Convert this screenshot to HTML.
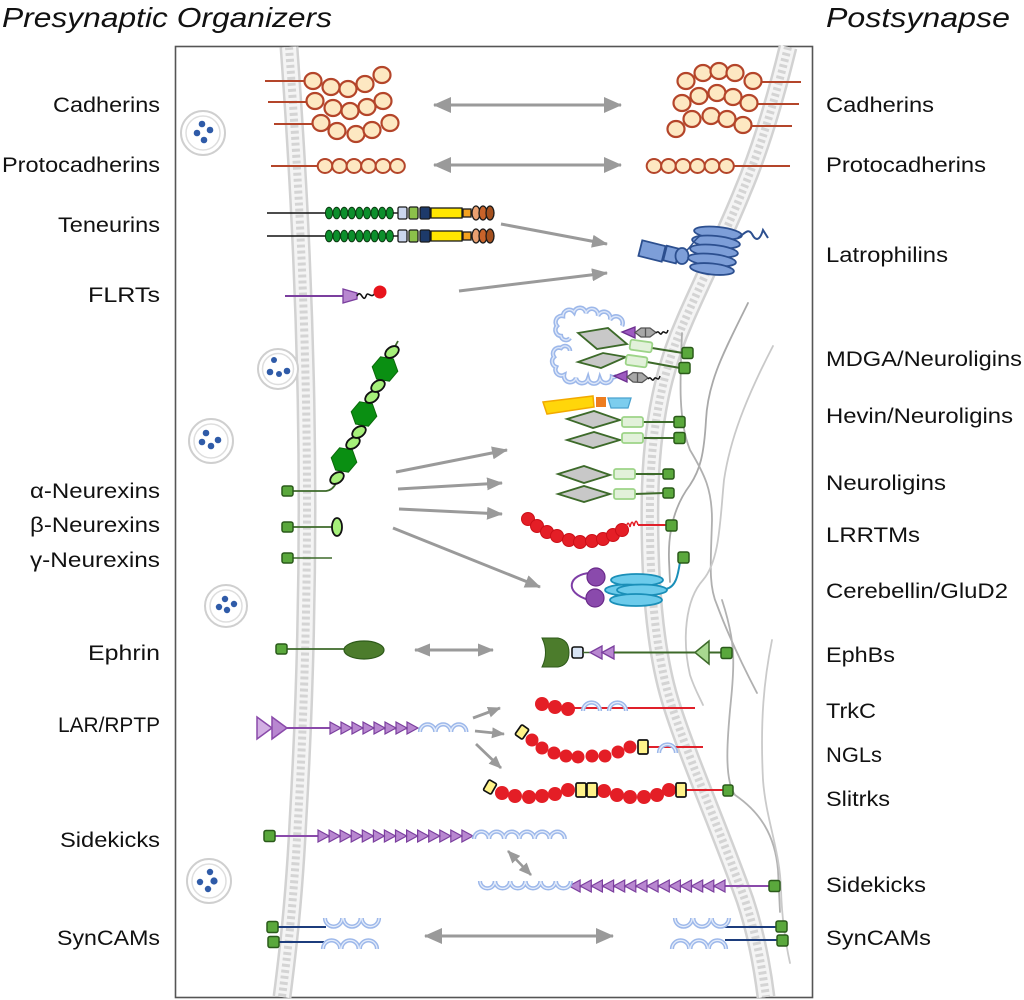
<!DOCTYPE html>
<html>
<head>
<meta charset="utf-8">
<style>
html,body{margin:0;padding:0;background:#fff;}
svg{display:block;}
text{font-family:"Liberation Sans",Arial,sans-serif;fill:#111;}
</style>
</head>
<body>
<svg width="1024" height="1000" viewBox="0 0 1024 1000" xmlns="http://www.w3.org/2000/svg">
<defs>
<marker id="hb" viewBox="0 0 18 16" refX="17" refY="8" markerWidth="18" markerHeight="16" orient="auto-start-reverse" markerUnits="userSpaceOnUse"><path d="M0,0 L18,8 L0,16 z" fill="#9a9a9a"/></marker>
<marker id="hm" viewBox="0 0 16 13" refX="15" refY="6.5" markerWidth="16" markerHeight="13" orient="auto-start-reverse" markerUnits="userSpaceOnUse"><path d="M0,0 L16,6.5 L0,13 z" fill="#9a9a9a"/></marker>
<marker id="hs" viewBox="0 0 13 11" refX="12" refY="5.5" markerWidth="13" markerHeight="11" orient="auto-start-reverse" markerUnits="userSpaceOnUse"><path d="M0,0 L13,5.5 L0,11 z" fill="#9a9a9a"/></marker>
</defs>

<!-- titles -->
<text x="2" y="27" font-size="28" font-style="italic" textLength="330" lengthAdjust="spacingAndGlyphs">Presynaptic Organizers</text>
<text x="826" y="27" font-size="28" font-style="italic" textLength="184" lengthAdjust="spacingAndGlyphs">Postsynapse</text>

<!-- frame -->
<rect x="175.5" y="46.5" width="637" height="951" fill="#fff" stroke="#555" stroke-width="1.6"/>

<!-- membranes -->
<g fill="none">
  <path d="M289,47 C295,130 303,250 306,400 C309,560 305,700 298,820 C294,900 288,950 282,997" stroke="#d2d2d2" stroke-width="19"/>
  <path d="M289,47 C295,130 303,250 306,400 C309,560 305,700 298,820 C294,900 288,950 282,997" stroke="#f4f4f4" stroke-width="14"/>
  <path d="M289,47 C295,130 303,250 306,400 C309,560 305,700 298,820 C294,900 288,950 282,997" stroke="#d4d4d4" stroke-width="8" stroke-dasharray="3 3"/>
  <path d="M788,47 C775,100 760,150 743,190 C725,235 700,285 685,320 C665,365 651,420 650,500 C649,580 655,650 670,700 C685,750 720,830 745,900 C755,930 762,965 766,997" stroke="#d2d2d2" stroke-width="19"/>
  <path d="M788,47 C775,100 760,150 743,190 C725,235 700,285 685,320 C665,365 651,420 650,500 C649,580 655,650 670,700 C685,750 720,830 745,900 C755,930 762,965 766,997" stroke="#f4f4f4" stroke-width="14"/>
  <path d="M788,47 C775,100 760,150 743,190 C725,235 700,285 685,320 C665,365 651,420 650,500 C649,580 655,650 670,700 C685,750 720,830 745,900 C755,930 762,965 766,997" stroke="#d4d4d4" stroke-width="8" stroke-dasharray="3 3"/>
</g>

<!-- cytoskeleton fibers -->
<g fill="none" stroke-width="1.8" stroke-linecap="round">
  <path d="M748,303 C725,350 708,380 706,420 C704,455 700,470 690,485 C675,505 668,530 669,560 L670,582" stroke="#a9a9a9"/>
  <path d="M682,333 C680,380 678,420 690,450 C705,475 712,490 712,520 C711,560 708,585 717,605 C730,640 745,670 757,693" stroke="#b0b0b0"/>
  <path d="M773,346 C745,400 730,440 724,480 C720,520 720,560 703,580 C685,600 682,640 690,675 C695,690 700,698 703,705" stroke="#c9c9c9"/>
  <path d="M722,600 C735,640 735,660 731,700 C727,740 724,780 735,795 C760,812 775,835 778,870 L780,912" stroke="#b2b2b2"/>
  <path d="M772,640 C764,680 760,720 763,780 C766,820 780,850 781,890 C782,920 786,945 790,963" stroke="#cacaca"/>
</g>

<!-- vesicles -->
<g>
  <g transform="translate(203,133)"><circle r="22" fill="#fff" stroke="#cfcfcf" stroke-width="2"/><circle r="17" fill="none" stroke="#dedede" stroke-width="1.5"/><g fill="#2f5ba8"><circle cx="-1" cy="-9" r="3.3"/><circle cx="7" cy="-3" r="3.3"/><circle cx="-6" cy="0" r="3.3"/><circle cx="1" cy="7" r="3.3"/></g></g>
  <g transform="translate(278,369)"><circle r="20" fill="#fff" stroke="#cfcfcf" stroke-width="2"/><circle r="15.5" fill="none" stroke="#dedede" stroke-width="1.5"/><g fill="#2f5ba8"><circle cx="-4" cy="-9" r="3"/><circle cx="-8" cy="3" r="3.3"/><circle cx="1" cy="5" r="3"/><circle cx="9" cy="2" r="3.3"/></g></g>
  <g transform="translate(211,441)"><circle r="22" fill="#fff" stroke="#cfcfcf" stroke-width="2"/><circle r="17" fill="none" stroke="#dedede" stroke-width="1.5"/><g fill="#2f5ba8"><circle cx="-5" cy="-8" r="3.3"/><circle cx="-9" cy="1" r="3.3"/><circle cx="0" cy="5" r="3.3"/><circle cx="7" cy="-1" r="3.3"/></g></g>
  <g transform="translate(226,606)"><circle r="21" fill="#fff" stroke="#cfcfcf" stroke-width="2"/><circle r="16" fill="none" stroke="#dedede" stroke-width="1.5"/><g fill="#2f5ba8"><circle cx="-1" cy="-7" r="3.2"/><circle cx="-7" cy="1" r="3.2"/><circle cx="1" cy="4" r="3.2"/><circle cx="8" cy="-2" r="3.2"/></g></g>
  <g transform="translate(209,881)"><circle r="22" fill="#fff" stroke="#cfcfcf" stroke-width="2"/><circle r="17" fill="none" stroke="#dedede" stroke-width="1.5"/><g fill="#2f5ba8"><circle cx="1" cy="-9" r="3.2"/><circle cx="-9" cy="1" r="3.2"/><circle cx="5" cy="0" r="3.6"/><circle cx="-1" cy="8" r="3.2"/></g></g>
</g>

<!-- arrows -->
<g stroke="#9a9a9a" stroke-width="3" fill="none">
  <line x1="434" y1="105" x2="621" y2="105" marker-start="url(#hb)" marker-end="url(#hb)"/>
  <line x1="434" y1="165" x2="621" y2="165" marker-start="url(#hb)" marker-end="url(#hb)"/>
  <line x1="501" y1="224" x2="607" y2="244" marker-end="url(#hm)"/>
  <line x1="459" y1="291" x2="607" y2="273" marker-end="url(#hm)"/>
  <line x1="396" y1="472" x2="507" y2="450" marker-end="url(#hm)"/>
  <line x1="398" y1="489" x2="502" y2="483" marker-end="url(#hm)"/>
  <line x1="399" y1="509" x2="502" y2="514" marker-end="url(#hm)"/>
  <line x1="393" y1="528" x2="540" y2="587" marker-end="url(#hm)"/>
  <line x1="415" y1="650" x2="493" y2="650" stroke-width="3" marker-start="url(#hm)" marker-end="url(#hm)"/>
  <line x1="473" y1="718" x2="500" y2="708" stroke-width="2.8" marker-end="url(#hs)"/>
  <line x1="475" y1="731" x2="504" y2="734" stroke-width="2.8" marker-end="url(#hs)"/>
  <line x1="476" y1="744" x2="501" y2="768" stroke-width="2.8" marker-end="url(#hs)"/>
  <line x1="508" y1="851" x2="531" y2="875" stroke-width="2.6" marker-start="url(#hs)" marker-end="url(#hs)"/>
  <line x1="425" y1="936" x2="613" y2="936" marker-start="url(#hb)" marker-end="url(#hb)"/>
</g>

<!-- Cadherins -->
<g stroke="#b4452a" stroke-width="2">
  <line x1="265" y1="81" x2="306" y2="81"/>
  <line x1="268" y1="102" x2="307" y2="102"/>
  <line x1="274" y1="124" x2="313" y2="124"/>
  <line x1="760" y1="82" x2="801" y2="82"/>
  <line x1="756" y1="104" x2="799" y2="104"/>
  <line x1="749" y1="126" x2="792" y2="126"/>
  <line x1="271" y1="166" x2="318" y2="166"/>
  <line x1="733" y1="166" x2="790" y2="166"/>
</g>
<g fill="#fde8c2" stroke="#b4452a" stroke-width="2.2">
  <ellipse cx="313" cy="81" rx="8.5" ry="8"/><ellipse cx="331" cy="87" rx="8.5" ry="8"/><ellipse cx="348" cy="89" rx="8.5" ry="8"/><ellipse cx="365" cy="84" rx="8.5" ry="8"/><ellipse cx="382" cy="75" rx="8.5" ry="8"/>
  <ellipse cx="315" cy="101" rx="8.5" ry="8"/><ellipse cx="333" cy="108" rx="8.5" ry="8"/><ellipse cx="350" cy="111" rx="8.5" ry="8"/><ellipse cx="367" cy="107" rx="8.5" ry="8"/><ellipse cx="383" cy="101" rx="8.5" ry="8"/>
  <ellipse cx="321" cy="123" rx="8.5" ry="8"/><ellipse cx="337" cy="131" rx="8.5" ry="8"/><ellipse cx="356" cy="134" rx="8.5" ry="8"/><ellipse cx="372" cy="130" rx="8.5" ry="8"/><ellipse cx="390" cy="123" rx="8.5" ry="8"/>
  <ellipse cx="686" cy="81" rx="8.5" ry="8"/><ellipse cx="703" cy="73" rx="8.5" ry="8"/><ellipse cx="719" cy="71" rx="8.5" ry="8"/><ellipse cx="735" cy="73" rx="8.5" ry="8"/><ellipse cx="753" cy="81" rx="8.5" ry="8"/>
  <ellipse cx="682" cy="103" rx="8.5" ry="8"/><ellipse cx="699" cy="96" rx="8.5" ry="8"/><ellipse cx="717" cy="93" rx="8.5" ry="8"/><ellipse cx="733" cy="97" rx="8.5" ry="8"/><ellipse cx="749" cy="103" rx="8.5" ry="8"/>
  <ellipse cx="676" cy="129" rx="8.5" ry="8"/><ellipse cx="692" cy="119" rx="8.5" ry="8"/><ellipse cx="711" cy="116" rx="8.5" ry="8"/><ellipse cx="727" cy="119" rx="8.5" ry="8"/><ellipse cx="743" cy="125" rx="8.5" ry="8"/>
</g>
<g fill="#fde8c2" stroke="#b4452a" stroke-width="2">
  <ellipse cx="325" cy="166" rx="7.3" ry="7"/><ellipse cx="339.5" cy="166" rx="7.3" ry="7"/><ellipse cx="354" cy="166" rx="7.3" ry="7"/><ellipse cx="368.5" cy="166" rx="7.3" ry="7"/><ellipse cx="383" cy="166" rx="7.3" ry="7"/><ellipse cx="397.5" cy="166" rx="7.3" ry="7"/>
  <ellipse cx="654" cy="166" rx="7.3" ry="7"/><ellipse cx="668.5" cy="166" rx="7.3" ry="7"/><ellipse cx="683" cy="166" rx="7.3" ry="7"/><ellipse cx="697.5" cy="166" rx="7.3" ry="7"/><ellipse cx="712" cy="166" rx="7.3" ry="7"/><ellipse cx="726.5" cy="166" rx="7.3" ry="7"/>
</g>

<!-- Teneurins -->
<g id="ten1">
  <line x1="267" y1="213" x2="330" y2="213" stroke="#111" stroke-width="1.6"/>
  <g fill="#0c8f2c" stroke="#0a3a10" stroke-width="1">
    <ellipse cx="329" cy="213" rx="3.6" ry="5.8"/><ellipse cx="336.6" cy="213" rx="3.6" ry="5.8"/><ellipse cx="344.2" cy="213" rx="3.6" ry="5.8"/><ellipse cx="351.8" cy="213" rx="3.6" ry="5.8"/><ellipse cx="359.4" cy="213" rx="3.6" ry="5.8"/><ellipse cx="367" cy="213" rx="3.6" ry="5.8"/><ellipse cx="374.6" cy="213" rx="3.6" ry="5.8"/><ellipse cx="382.2" cy="213" rx="3.6" ry="5.8"/><ellipse cx="389.8" cy="213" rx="3.6" ry="5.8"/>
  </g>
  <line x1="393" y1="213" x2="399" y2="213" stroke="#111" stroke-width="1.4"/>
  <g stroke="#1a1a1a" stroke-width="1.3">
    <rect x="398" y="207" width="9" height="12" rx="1.5" fill="#cbd6ee"/>
    <rect x="409" y="207" width="9" height="12" rx="1.5" fill="#8cc04a"/>
    <rect x="420" y="207" width="10" height="12" rx="1.5" fill="#1d3a6a"/>
    <rect x="431" y="208" width="31" height="10" fill="#ffe600"/>
    <rect x="463" y="209" width="8" height="8" fill="#f3a21f"/>
    <ellipse cx="476" cy="213" rx="4" ry="7" fill="#eaa070"/>
    <ellipse cx="483" cy="213" rx="4" ry="7" fill="#c8632a"/>
    <ellipse cx="490" cy="213" rx="4" ry="7" fill="#a4501e"/>
  </g>
</g>
<use href="#ten1" transform="translate(0,23)"/>

<!-- FLRTs -->
<line x1="285" y1="296" x2="344" y2="296" stroke="#7b3f9e" stroke-width="2"/>
<polygon points="343,289 357,293 357,299 343,303" fill="#b887d0" stroke="#7b3f9e" stroke-width="1.3"/>
<path d="M357,296 c4,-8 6,8 9,0 c2,-6 5,4 9,-3" fill="none" stroke="#111" stroke-width="1.6"/>
<circle cx="380" cy="292" r="6.5" fill="#e8141c"/>

<!-- Latrophilins -->
<g fill="#7d9ed8" stroke="#2c4f8f" stroke-width="1.8">
  <rect x="640" y="243" width="24" height="16" transform="rotate(14 652 251)"/>
  <rect x="665" y="247" width="13" height="15" transform="rotate(14 671 254)"/>
  <ellipse cx="682" cy="256" rx="6.5" ry="8"/>
  <ellipse cx="718" cy="233" rx="24" ry="6" transform="rotate(6 718 233)"/>
  <ellipse cx="716" cy="242" rx="24" ry="6" transform="rotate(6 716 242)"/>
  <ellipse cx="714" cy="251" rx="24" ry="6" transform="rotate(6 714 251)"/>
  <ellipse cx="712" cy="260" rx="24" ry="6" transform="rotate(6 712 260)"/>
  <ellipse cx="712" cy="269" rx="22" ry="5.5" transform="rotate(6 712 269)"/>
</g>
<path d="M686,251 C692,246 694,240 700,236" fill="none" stroke="#2c4f8f" stroke-width="1.5"/>
<path d="M738,238 C745,233 748,228 752,234 C756,242 760,240 763,230 L768,238" fill="none" stroke="#2c4f8f" stroke-width="2"/>

<!-- alpha neurexin -->
<g>
  <path d="M292,491 L326,491 Q333,490 336,483" fill="none" stroke="#3d6a2a" stroke-width="1.8"/>
  <path d="M392,352 L398,341" fill="none" stroke="#3d6a2a" stroke-width="1.8"/>
  <g fill="#0a8f12" stroke="#0a6a0a" stroke-width="1">
    <polygon points="356.8,462.3 348.4,472.2 335.6,470 331.2,457.7 339.6,447.8 352.4,450"/>
    <polygon points="376.8,416.3 368.4,426.2 355.6,424 351.2,411.7 359.6,401.8 372.4,404"/>
    <polygon points="397.8,371.3 389.4,381.2 376.6,379 372.2,366.7 380.6,356.8 393.4,359"/>
  </g>
  <g fill="#a6f07a" stroke="#111" stroke-width="1.8">
    <ellipse cx="337" cy="478" rx="7.5" ry="5" transform="rotate(-35 337 478)"/>
    <ellipse cx="353" cy="443" rx="7.5" ry="5" transform="rotate(-35 353 443)"/>
    <ellipse cx="359" cy="432" rx="7.5" ry="5" transform="rotate(-35 359 432)"/>
    <ellipse cx="372" cy="397" rx="7.5" ry="5" transform="rotate(-35 372 397)"/>
    <ellipse cx="378" cy="386" rx="7.5" ry="5" transform="rotate(-35 378 386)"/>
    <ellipse cx="392" cy="352" rx="7.5" ry="5" transform="rotate(-35 392 352)"/>
  </g>
</g>
<!-- beta, gamma -->
<line x1="292" y1="527" x2="333" y2="527" stroke="#3d6a2a" stroke-width="1.8"/>
<ellipse cx="337" cy="527" rx="5" ry="9" fill="#a6f07a" stroke="#111" stroke-width="1.8"/>
<line x1="292" y1="558" x2="332" y2="558" stroke="#3d6a2a" stroke-width="1.6"/>

<!-- Ephrin -->
<line x1="286" y1="649" x2="346" y2="649" stroke="#3d6a2a" stroke-width="1.8"/>
<ellipse cx="364" cy="650" rx="20" ry="9" fill="#4c7c2c" stroke="#2e5a1a" stroke-width="1.2"/>

<!-- MDGA -->
<g fill="none">
  <path d="M622,326 A6.2,6.2 0 0 0 610,320 A6.2,6.2 0 0 0 598,316 A6.2,6.2 0 0 0 586,313 A6.2,6.2 0 0 0 574,312 A6.2,6.2 0 0 0 563,316 A6.2,6.2 0 0 0 557,326 A6,6 0 0 0 561,336 A5,5 0 0 0 570,338" stroke="#9db8ea" stroke-width="4.5"/>
  <path d="M622,326 A6.2,6.2 0 0 0 610,320 A6.2,6.2 0 0 0 598,316 A6.2,6.2 0 0 0 586,313 A6.2,6.2 0 0 0 574,312 A6.2,6.2 0 0 0 563,316 A6.2,6.2 0 0 0 557,326 A6,6 0 0 0 561,336 A5,5 0 0 0 570,338" stroke="#dde7f9" stroke-width="1.4"/>
  <path d="M570,351 A5,5 0 0 0 561,348 A6,6 0 0 0 554,357 A6,6 0 0 0 556,367 A6,6 0 0 0 564,375 A6.2,6.2 0 0 0 576,378 A6.2,6.2 0 0 0 588,379 A6.2,6.2 0 0 0 600,379 A6.2,6.2 0 0 0 612,377 A4,4 0 0 0 617,375" stroke="#9db8ea" stroke-width="4.5"/>
  <path d="M570,351 A5,5 0 0 0 561,348 A6,6 0 0 0 554,357 A6,6 0 0 0 556,367 A6,6 0 0 0 564,375 A6.2,6.2 0 0 0 576,378 A6.2,6.2 0 0 0 588,379 A6.2,6.2 0 0 0 600,379 A6.2,6.2 0 0 0 612,377 A4,4 0 0 0 617,375" stroke="#dde7f9" stroke-width="1.4"/>
</g>
<g stroke-width="1.3">
  <polygon points="622,332 635,327 635,338" fill="#9d5ac0" stroke="#6d2f90"/>
  <polygon points="635,332.5 641,328 650,328 656,332.5 650,337 641,337" fill="#a8a8a8" stroke="#555"/>
  <line x1="645.5" y1="328" x2="645.5" y2="337" stroke="#555"/>
  <polygon points="614,376 627,371 627,382" fill="#9d5ac0" stroke="#6d2f90"/>
  <polygon points="627,377 633,372.5 642,373 648,378 642,382.5 633,382" fill="#a8a8a8" stroke="#555"/>
  <line x1="637.5" y1="373" x2="637.5" y2="382" stroke="#555"/>
</g>
<path d="M656,333 c3,-4 4,4 6,0 c2,-4 4,4 6,-3" fill="none" stroke="#111" stroke-width="1.5"/>
<path d="M648,379 c3,-4 4,4 6,0 c2,-4 4,4 6,-3" fill="none" stroke="#111" stroke-width="1.5"/>

<!-- Hevin -->
<polygon points="543,402 593,396 594,407 547,414" fill="#ffd60a" stroke="#f2a900" stroke-width="1.5"/>
<rect x="596" y="397" width="10" height="10" fill="#ee7d1f"/>
<polygon points="608,398 631,398 628,408 611,408" fill="#7ccdee" stroke="#4aa2cf" stroke-width="1.3"/>

<!-- Neuroligin units -->
<g stroke="#3d6a2a" stroke-width="2">
  <line x1="652" y1="348" x2="683" y2="353"/>
  <line x1="647" y1="362" x2="680" y2="368"/>
  <line x1="643" y1="422" x2="675" y2="422"/>
  <line x1="643" y1="438" x2="675" y2="438"/>
  <line x1="635" y1="474" x2="664" y2="474"/>
  <line x1="635" y1="494" x2="664" y2="493"/>
</g>
<g fill="#c8c8c8" stroke="#3d6a2a" stroke-width="1.8">
  <polygon points="578,333 608,328 627,344 597,349"/>
  <polygon points="578,362 603,353 626,357 601,368"/>
  <polygon points="567,419 594,411 620,420 593,428"/>
  <polygon points="567,440 594,432 620,440 593,448"/>
  <polygon points="558,474 584,466 610,475 584,483"/>
  <polygon points="558,494 584,486 610,494 584,502"/>
</g>
<g fill="#e2f1da" stroke="#9dd488" stroke-width="1.8">
  <rect x="630" y="341" width="22" height="10" rx="2" transform="rotate(8 641 346)"/>
  <rect x="626" y="356" width="21" height="10" rx="2" transform="rotate(8 636 361)"/>
  <rect x="622" y="417" width="21" height="10" rx="2"/>
  <rect x="622" y="433" width="21" height="10" rx="2"/>
  <rect x="614" y="469" width="21" height="10" rx="2"/>
  <rect x="614" y="489" width="21" height="10" rx="2"/>
</g>

<!-- LRRTM -->
<g fill="#e41e26" stroke="#cc1018" stroke-width="1">
  <circle cx="528" cy="519" r="6.5"/><circle cx="537" cy="526" r="6.5"/><circle cx="547" cy="532" r="6.5"/><circle cx="557" cy="536" r="6.5"/><circle cx="569" cy="540" r="6.5"/><circle cx="580" cy="542" r="6.5"/><circle cx="592" cy="541" r="6.5"/><circle cx="603" cy="539" r="6.5"/><circle cx="613" cy="535" r="6.5"/><circle cx="622" cy="530" r="6.5"/>
</g>
<path d="M626,528 q2,-9 4,-1 q2,-9 4,-1 q2,-9 4,-1" fill="none" stroke="#e41e26" stroke-width="1.5"/>
<line x1="638" y1="525" x2="667" y2="525" stroke="#e0202a" stroke-width="2"/>

<!-- Cerebellin/GluD2 -->
<path d="M590,573 C570,574 562,592 589,600" fill="none" stroke="#7e3ea6" stroke-width="2"/>
<circle cx="596" cy="577" r="9" fill="#8a4aac" stroke="#6a2a8a" stroke-width="1.2"/>
<circle cx="595" cy="598" r="9" fill="#8a4aac" stroke="#6a2a8a" stroke-width="1.2"/>
<g fill="#6ccbeb" stroke="#1a8fb8" stroke-width="1.8">
  <ellipse cx="637" cy="580" rx="26" ry="6"/>
  <ellipse cx="627" cy="590" rx="22" ry="5.5"/>
  <ellipse cx="642" cy="590" rx="25" ry="5.5"/>
  <ellipse cx="636" cy="600" rx="26" ry="6"/>
</g>
<path d="M666,589 C676,587 678,575 680,562" fill="none" stroke="#1a8fb8" stroke-width="2"/>

<!-- EphB -->
<path d="M542,638 L558,638 Q569,640 569,652.5 Q569,665 558,667 L542,667 Q549,652.5 542,638 Z" fill="#4c7c2c" stroke="#2e5a1a" stroke-width="1"/>
<rect x="572" y="647" width="11" height="11" rx="2" fill="#d8e4f4" stroke="#111" stroke-width="1.6"/>
<line x1="583" y1="652.5" x2="590" y2="652.5" stroke="#3d6a2a" stroke-width="1.5"/>
<polygon points="590,652.5 602,646 602,659" fill="#b887d0" stroke="#7b3f9e" stroke-width="1.3"/>
<polygon points="602,652.5 614,646 614,659" fill="#b887d0" stroke="#7b3f9e" stroke-width="1.3"/>
<line x1="614" y1="652.5" x2="722" y2="652.5" stroke="#3d6a2a" stroke-width="2"/>
<polygon points="695,652.5 709,641 709,664" fill="#a8d890" stroke="#3d6a2a" stroke-width="1.5"/>

<!-- LAR -->
<polygon points="257,717 272,728 257,739" fill="#d2afe3" stroke="#8a4aaa" stroke-width="1.5"/>
<polygon points="272,717 287,728 272,739" fill="#b887d0" stroke="#8a4aaa" stroke-width="1.5"/>
<line x1="287" y1="728" x2="331" y2="728" stroke="#8a4aaa" stroke-width="2"/>
<path d="M330,722 L341,728 L330,734 Z M341,722 L352,728 L341,734 Z M352,722 L363,728 L352,734 Z M363,722 L374,728 L363,734 Z M374,722 L385,728 L374,734 Z M385,722 L396,728 L385,734 Z M396,722 L407,728 L396,734 Z M407,722 L418,728 L407,734 Z" fill="#b887d0" stroke="#7b3f9e" stroke-width="1.2"/>

<!-- TrkC -->
<line x1="572" y1="708" x2="695" y2="708" stroke="#e0202a" stroke-width="2"/>
<g fill="#e41e26"><circle cx="542" cy="704" r="7"/><circle cx="555" cy="707" r="7"/><circle cx="568" cy="709" r="7"/></g>

<!-- NGL -->
<line x1="645" y1="747" x2="703" y2="747" stroke="#e0202a" stroke-width="2"/>
<g fill="#e41e26">
  <circle cx="532" cy="740" r="6.5"/><circle cx="542" cy="748" r="6.5"/><circle cx="554" cy="753" r="6.5"/><circle cx="566" cy="756" r="6.5"/><circle cx="578" cy="757" r="6.5"/><circle cx="592" cy="756" r="6.5"/><circle cx="605" cy="756" r="6.5"/><circle cx="618" cy="752" r="6.5"/><circle cx="630" cy="747" r="6.5"/>
</g>
<!-- Slitrk -->
<line x1="684" y1="790" x2="724" y2="790" stroke="#e0202a" stroke-width="2"/>
<g fill="#e41e26">
  <circle cx="502" cy="793" r="7"/><circle cx="515" cy="796" r="7"/><circle cx="529" cy="797" r="7"/><circle cx="542" cy="796" r="7"/><circle cx="555" cy="794" r="7"/><circle cx="568" cy="790" r="7"/>
  <circle cx="604" cy="791" r="7"/><circle cx="617" cy="795" r="7"/><circle cx="630" cy="797" r="7"/><circle cx="644" cy="797" r="7"/><circle cx="657" cy="795" r="7"/><circle cx="669" cy="790" r="7"/>
</g>
<g fill="#fff38a" stroke="#111" stroke-width="1.7">
  <rect x="517.5" y="726" width="9" height="12" rx="1.5" transform="rotate(35 522 732)"/>
  <rect x="638" y="740" width="10" height="14" rx="1.5"/>
  <rect x="485.5" y="781" width="9" height="12" rx="1.5" transform="rotate(30 490 787)"/>
  <rect x="576" y="783" width="10" height="14" rx="1.5"/>
  <rect x="587" y="783" width="10" height="14" rx="1.5"/>
  <rect x="676" y="783" width="10" height="14" rx="1.5"/>
</g>

<!-- Sidekicks -->
<line x1="274" y1="836" x2="319" y2="836" stroke="#8a4aaa" stroke-width="2"/>
<path d="M318,830 L329.1,836 L318,842 Z M329.1,830 L340.1,836 L329.1,842 Z M340.1,830 L351.2,836 L340.1,842 Z M351.2,830 L362.3,836 L351.2,842 Z M362.3,830 L373.4,836 L362.3,842 Z M373.4,830 L384.4,836 L373.4,842 Z M384.4,830 L395.5,836 L384.4,842 Z M395.5,830 L406.6,836 L395.5,842 Z M406.6,830 L417.6,836 L406.6,842 Z M417.6,830 L428.7,836 L417.6,842 Z M428.7,830 L439.8,836 L428.7,842 Z M439.8,830 L450.8,836 L439.8,842 Z M450.8,830 L461.9,836 L450.8,842 Z M461.9,830 L473,836 L461.9,842 Z" fill="#b887d0" stroke="#7b3f9e" stroke-width="1.2"/>
<line x1="724" y1="886" x2="770" y2="886" stroke="#8a4aaa" stroke-width="2"/>
<path d="M580.1,880 L569,886 L580.1,892 Z M591.3,880 L580.1,886 L591.3,892 Z M602.4,880 L591.3,886 L602.4,892 Z M613.6,880 L602.4,886 L613.6,892 Z M624.7,880 L613.6,886 L624.7,892 Z M635.8,880 L624.7,886 L635.8,892 Z M647,880 L635.8,886 L647,892 Z M658.1,880 L647,886 L658.1,892 Z M669.3,880 L658.1,886 L669.3,892 Z M680.4,880 L669.3,886 L680.4,892 Z M691.5,880 L680.4,886 L691.5,892 Z M702.7,880 L691.5,886 L702.7,892 Z M713.8,880 L702.7,886 L713.8,892 Z M725,880 L713.8,886 L725,892 Z" fill="#b887d0" stroke="#7b3f9e" stroke-width="1.2"/>

<!-- SynCAM lines -->
<g stroke="#1c3c7c" stroke-width="2">
  <line x1="276" y1="927" x2="326" y2="927"/>
  <line x1="278" y1="942" x2="324" y2="942"/>
  <line x1="721" y1="927" x2="777" y2="927"/>
  <line x1="725" y1="940" x2="778" y2="940"/>
</g>

<!-- light blue bump domains -->
<g fill="none" stroke="#9db8ea" stroke-width="4.2">
  <path d="M420,732 a7.6,7.6 0 0 1 15.2,0 M435.6,732 a7.6,7.6 0 0 1 15.2,0 M451.2,732 a7.6,7.6 0 0 1 15.2,0"/>
  <path d="M583,711 a8.5,8.5 0 0 1 17,0 M609,711 a8.5,8.5 0 0 1 17,0"/>
  <path d="M659,753 a8.5,8.5 0 0 1 17,0"/>
  <path d="M474,839 a7.4,7.4 0 0 1 14.8,0 M489.2,839 a7.4,7.4 0 0 1 14.8,0 M504.4,839 a7.4,7.4 0 0 1 14.8,0 M519.6,839 a7.4,7.4 0 0 1 14.8,0 M534.8,839 a7.4,7.4 0 0 1 14.8,0 M550,839 a7.4,7.4 0 0 1 14.8,0"/>
  <path d="M480,881 a7.4,7.4 0 0 0 14.8,0 M495.2,881 a7.4,7.4 0 0 0 14.8,0 M510.4,881 a7.4,7.4 0 0 0 14.8,0 M525.6,881 a7.4,7.4 0 0 0 14.8,0 M540.8,881 a7.4,7.4 0 0 0 14.8,0 M556,881 a7.4,7.4 0 0 0 14.8,0"/>
  <path d="M325,918 a8.6,8.6 0 0 0 17.2,0 M343.4,918 a8.6,8.6 0 0 0 17.2,0 M361.8,918 a8.6,8.6 0 0 0 17.2,0"/>
  <path d="M323,949 a8.6,8.6 0 0 1 17.2,0 M341.4,949 a8.6,8.6 0 0 1 17.2,0 M359.8,949 a8.6,8.6 0 0 1 17.2,0"/>
  <path d="M675,918 a8.6,8.6 0 0 0 17.2,0 M693.4,918 a8.6,8.6 0 0 0 17.2,0 M711.8,918 a8.6,8.6 0 0 0 17.2,0"/>
  <path d="M672,949 a8.6,8.6 0 0 1 17.2,0 M690.4,949 a8.6,8.6 0 0 1 17.2,0 M708.8,949 a8.6,8.6 0 0 1 17.2,0"/>
</g>
<g fill="none" stroke="#e4ecfa" stroke-width="1.3">
  <path d="M420,732 a7.6,7.6 0 0 1 15.2,0 M435.6,732 a7.6,7.6 0 0 1 15.2,0 M451.2,732 a7.6,7.6 0 0 1 15.2,0"/>
  <path d="M583,711 a8.5,8.5 0 0 1 17,0 M609,711 a8.5,8.5 0 0 1 17,0"/>
  <path d="M659,753 a8.5,8.5 0 0 1 17,0"/>
  <path d="M474,839 a7.4,7.4 0 0 1 14.8,0 M489.2,839 a7.4,7.4 0 0 1 14.8,0 M504.4,839 a7.4,7.4 0 0 1 14.8,0 M519.6,839 a7.4,7.4 0 0 1 14.8,0 M534.8,839 a7.4,7.4 0 0 1 14.8,0 M550,839 a7.4,7.4 0 0 1 14.8,0"/>
  <path d="M480,881 a7.4,7.4 0 0 0 14.8,0 M495.2,881 a7.4,7.4 0 0 0 14.8,0 M510.4,881 a7.4,7.4 0 0 0 14.8,0 M525.6,881 a7.4,7.4 0 0 0 14.8,0 M540.8,881 a7.4,7.4 0 0 0 14.8,0 M556,881 a7.4,7.4 0 0 0 14.8,0"/>
  <path d="M325,918 a8.6,8.6 0 0 0 17.2,0 M343.4,918 a8.6,8.6 0 0 0 17.2,0 M361.8,918 a8.6,8.6 0 0 0 17.2,0"/>
  <path d="M323,949 a8.6,8.6 0 0 1 17.2,0 M341.4,949 a8.6,8.6 0 0 1 17.2,0 M359.8,949 a8.6,8.6 0 0 1 17.2,0"/>
  <path d="M675,918 a8.6,8.6 0 0 0 17.2,0 M693.4,918 a8.6,8.6 0 0 0 17.2,0 M711.8,918 a8.6,8.6 0 0 0 17.2,0"/>
  <path d="M672,949 a8.6,8.6 0 0 1 17.2,0 M690.4,949 a8.6,8.6 0 0 1 17.2,0 M708.8,949 a8.6,8.6 0 0 1 17.2,0"/>
</g>

<!-- green transmembrane squares -->
<g fill="#5aa83c" stroke="#2a5a1a" stroke-width="1.5">
  <rect x="682" y="347.5" width="11" height="11" rx="2"/>
  <rect x="679" y="362.5" width="11" height="11" rx="2"/>
  <rect x="674" y="416.5" width="11" height="11" rx="2"/>
  <rect x="674" y="432.5" width="11" height="11" rx="2"/>
  <rect x="663" y="469" width="11" height="10" rx="2"/>
  <rect x="663" y="488" width="11" height="10" rx="2"/>
  <rect x="666" y="520" width="11" height="11" rx="2"/>
  <rect x="678" y="552" width="11" height="11" rx="2"/>
  <rect x="721" y="647.5" width="11" height="11" rx="2"/>
  <rect x="723" y="785" width="10" height="11" rx="2"/>
  <rect x="769" y="880.5" width="11" height="11" rx="2"/>
  <rect x="776" y="921" width="11" height="11" rx="2"/>
  <rect x="777" y="935" width="11" height="11" rx="2"/>
  <rect x="282" y="486" width="11" height="10" rx="2"/>
  <rect x="282" y="522" width="11" height="10" rx="2"/>
  <rect x="282" y="553" width="11" height="10" rx="2"/>
  <rect x="276" y="644" width="11" height="10" rx="2"/>
  <rect x="264" y="830.5" width="11" height="11" rx="2"/>
  <rect x="267" y="921.5" width="11" height="11" rx="2"/>
  <rect x="268" y="936.5" width="11" height="11" rx="2"/>
</g>

<!-- left labels -->
<g font-size="21">
  <text x="53" y="112" textLength="107" lengthAdjust="spacingAndGlyphs">Cadherins</text>
  <text x="2" y="172" textLength="158" lengthAdjust="spacingAndGlyphs">Protocadherins</text>
  <text x="58" y="232" textLength="102" lengthAdjust="spacingAndGlyphs">Teneurins</text>
  <text x="88" y="302" textLength="72" lengthAdjust="spacingAndGlyphs">FLRTs</text>
  <text x="30" y="498" textLength="130" lengthAdjust="spacingAndGlyphs">α-Neurexins</text>
  <text x="30" y="532" textLength="130" lengthAdjust="spacingAndGlyphs">β-Neurexins</text>
  <text x="30" y="567" textLength="130" lengthAdjust="spacingAndGlyphs">γ-Neurexins</text>
  <text x="88" y="660" textLength="72" lengthAdjust="spacingAndGlyphs">Ephrin</text>
  <text x="58" y="732" textLength="102" lengthAdjust="spacingAndGlyphs">LAR/RPTP</text>
  <text x="60" y="847" textLength="100" lengthAdjust="spacingAndGlyphs">Sidekicks</text>
  <text x="57" y="945" textLength="103" lengthAdjust="spacingAndGlyphs">SynCAMs</text>
</g>
<!-- right labels -->
<g font-size="21">
  <text x="826" y="112" textLength="108" lengthAdjust="spacingAndGlyphs">Cadherins</text>
  <text x="826" y="172" textLength="160" lengthAdjust="spacingAndGlyphs">Protocadherins</text>
  <text x="826" y="262" textLength="122" lengthAdjust="spacingAndGlyphs">Latrophilins</text>
  <text x="826" y="366" textLength="196" lengthAdjust="spacingAndGlyphs">MDGA/Neuroligins</text>
  <text x="826" y="423" textLength="187" lengthAdjust="spacingAndGlyphs">Hevin/Neuroligins</text>
  <text x="826" y="490" textLength="120" lengthAdjust="spacingAndGlyphs">Neuroligins</text>
  <text x="826" y="542" textLength="94" lengthAdjust="spacingAndGlyphs">LRRTMs</text>
  <text x="826" y="598" textLength="182" lengthAdjust="spacingAndGlyphs">Cerebellin/GluD2</text>
  <text x="826" y="662" textLength="69" lengthAdjust="spacingAndGlyphs">EphBs</text>
  <text x="826" y="718" textLength="50" lengthAdjust="spacingAndGlyphs">TrkC</text>
  <text x="826" y="762" textLength="56" lengthAdjust="spacingAndGlyphs">NGLs</text>
  <text x="826" y="806" textLength="64" lengthAdjust="spacingAndGlyphs">Slitrks</text>
  <text x="826" y="892" textLength="100" lengthAdjust="spacingAndGlyphs">Sidekicks</text>
  <text x="826" y="945" textLength="105" lengthAdjust="spacingAndGlyphs">SynCAMs</text>
</g>
</svg>
</body>
</html>
